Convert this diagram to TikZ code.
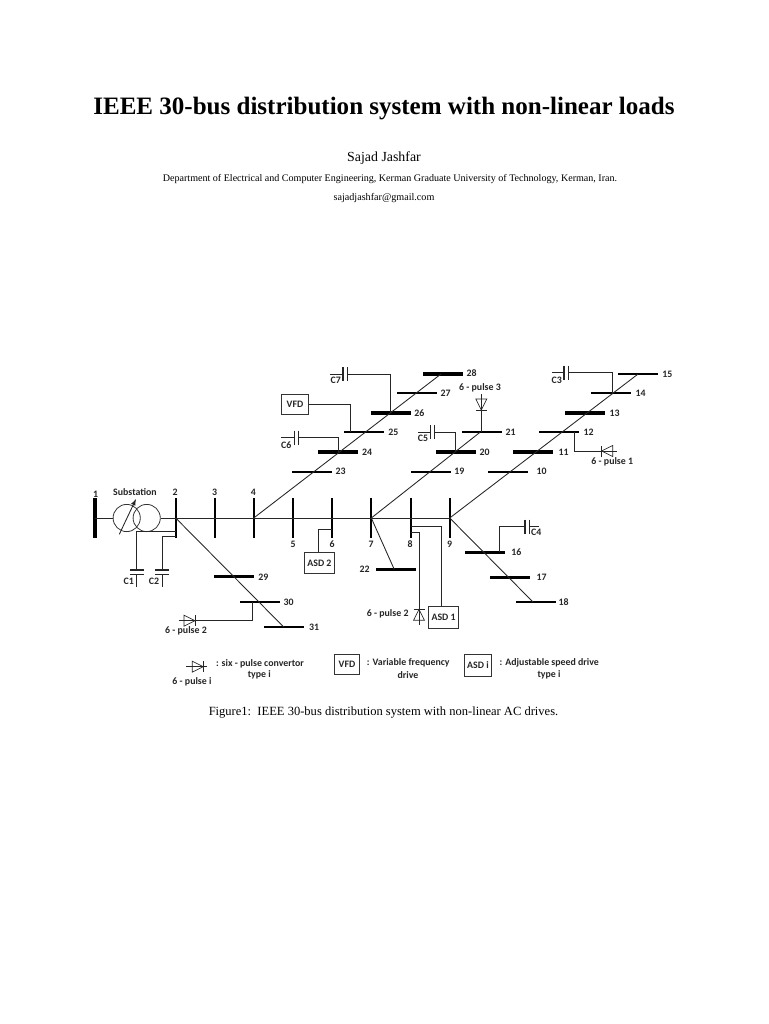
\documentclass[tikz,border=0pt]{standalone}
\usepackage{fontspec}
\setmainfont{Liberation Serif}
\newfontfamily\labelfont{Carlito}
\tikzset{
  wire/.style={line width=0.65pt,black!85},
  hbus/.style={fill=black,inner sep=0pt,minimum width=30pt,minimum height=1.5pt},
  hbusthick/.style={hbus,minimum height=2.6pt},
  vbus/.style={fill=black,inner sep=0pt,minimum width=1.6pt,minimum height=30pt},
  tag/.style={inner sep=0pt,text=black!85,font=\labelfont\bfseries\fontsize{7.4}{9}\selectfont},
  drivebox/.style={draw=black!80,line width=0.7pt,inner sep=0pt,anchor=north west,tag},
  diode/.pic={
    \draw[line width=0.5pt,black!85] (0,0) -- (-11,5.5) -- (-11,-5.5) -- cycle;
    \draw[line width=0.7pt,black!85] (0,-5.5) -- (0,5.5);
  },
  capacitor/.pic={
    \draw[line width=0.8pt,black!85] (0,-7) -- (0,7);
    \draw[line width=0.8pt,black!85] (-4.3,-7) -- (-4.3,7);
  }
}
\begin{document}
\begin{tikzpicture}[x=0.75pt,y=-0.75pt]
  \useasboundingbox (0,0) rectangle (768,1024);
  \node (title) at (384,109) {\fontsize{18.77}{20}\selectfont\bfseries IEEE 30-bus distribution system with non-linear loads};
  \node (author) at (384,158) {\fontsize{10.4}{12}\selectfont Sajad Jashfar};
  \node (dept) at (390,179) {\fontsize{7.55}{9}\selectfont Department of Electrical and Computer Engineering, Kerman Graduate University of Technology, Kerman, Iran.};
  \node (mail) at (384,198.5) {\fontsize{7.6}{9}\selectfont sajadjashfar@gmail.com};
  \node (caption) at (383.5,712) {\fontsize{9.4}{11}\selectfont Figure1:\ \ IEEE 30-bus distribution system with non-linear AC drives.};
  \path
    (95,518) node[vbus,minimum width=3.4pt] (1){}
    (175.7,518) node[vbus] (2){}
    (214.7,518) node[vbus] (3){}
    (253.7,518) node[vbus] (4){}
    (293,518) node[vbus] (5){}
    (332,518) node[vbus] (6){}
    (371.3,518) node[vbus] (7){}
    (410.7,518) node[vbus] (8){}
    (449.7,518) node[vbus] (9){}
    (507.5,471.7) node[hbus] (10){}
    (533.3,452) node[hbusthick] (11){}
    (559,432.3) node[hbus] (12){}
    (585.3,413) node[hbusthick] (13){}
    (611.3,393.3) node[hbus] (14){}
    (637.7,374.3) node[hbus] (15){}
    (485,552.3) node[hbusthick] (16){}
    (510,577.7) node[hbusthick] (17){}
    (536,602.3) node[hbus] (18){}
    (431,471.7) node[hbus] (19){}
    (456,452) node[hbusthick] (20){}
    (482,432.3) node[hbus] (21){}
    (395.7,569.5) node[hbusthick] (22){}
    (312,471.7) node[hbus] (23){}
    (338,452) node[hbusthick] (24){}
    (364,432.3) node[hbus] (25){}
    (390.5,413) node[hbusthick] (26){}
    (416.5,393.3) node[hbus] (27){}
    (442.7,374) node[hbusthick] (28){}
    (234,576.7) node[hbusthick] (29){}
    (260,602.3) node[hbus] (30){}
    (284,627) node[hbus] (31){};
  \path
    (95.7,494) node[tag] (t1){1}
    (175,492) node[tag] (t2){2}
    (214.7,492) node[tag] (t3){3}
    (253.3,492) node[tag] (t4){4}
    (293,544) node[tag] (t5){5}
    (332,544) node[tag] (t6){6}
    (371,544) node[tag] (t7){7}
    (410,544) node[tag] (t8){8}
    (449.7,544) node[tag] (t9){9}
    (541.7,471.7) node[tag] (t10){10}
    (563.7,452) node[tag] (t11){11}
    (588.7,432) node[tag] (t12){12}
    (614.7,413) node[tag] (t13){13}
    (640.7,393) node[tag] (t14){14}
    (667.3,374) node[tag] (t15){15}
    (516.3,552) node[tag] (t16){16}
    (541.7,577) node[tag] (t17){17}
    (563.7,601.7) node[tag] (t18){18}
    (459.3,471.7) node[tag] (t19){19}
    (484.7,452) node[tag] (t20){20}
    (510.7,432) node[tag] (t21){21}
    (364.7,569) node[tag] (t22){22}
    (340.7,471.7) node[tag] (t23){23}
    (367,452) node[tag] (t24){24}
    (393.3,432) node[tag] (t25){25}
    (419.3,412.7) node[tag] (t26){26}
    (445.7,393) node[tag] (t27){27}
    (471.7,373.5) node[tag] (t28){28}
    (263.3,577) node[tag] (t29){29}
    (288.7,602.5) node[tag] (t30){30}
    (314,627) node[tag] (t31){31}
    (135,491.7) node[tag] (substation){Substation}
    (128.7,581.5) node[tag] (tc1){C1}
    (154,581.5) node[tag] (tc2){C2}
    (556.7,380.3) node[tag] (tc3){C3}
    (536.3,532) node[tag] (tc4){C4}
    (423,438.7) node[tag] (tc5){C5}
    (286.3,444.7) node[tag] (tc6){C6}
    (335.7,380.3) node[tag] (tc7){C7}
    (612.3,461.7) node[tag] (tp1){6 - pulse 1}
    (186,631.3) node[tag] (tp2){6 - pulse 2}
    (387.7,614.3) node[tag] (tp8){6 - pulse 2}
    (480,388.3) node[tag] (tp3){6 - pulse 3}
    (192,681.7) node[tag] (tpi){6 - pulse i}
    (260,663.7) node[tag] (legend1){: six - pulse convertor}
    (259.3,675) node[tag] (legend1b){type i}
    (408.3,663) node[tag] (legend2){: Variable frequency}
    (408,675) node[tag] (legend2b){drive}
    (549.3,663) node[tag] (legend3){: Adjustable speed drive}
    (549,675) node[tag] (legend3b){type i};
  \path
    (281.3,393.7) node[drivebox,minimum width=19.8pt,minimum height=15.4pt] (vfd){VFD}
    (304.3,551.7) node[drivebox,minimum width=22pt,minimum height=16.2pt] (asd2){ASD 2}
    (428,605.7) node[drivebox,minimum width=22.7pt,minimum height=16.5pt] (asd1){ASD 1}
    (333.7,654.3) node[drivebox,minimum width=19.2pt,minimum height=15pt] (vfdkey){VFD}
    (464.3,654) node[drivebox,minimum width=19.8pt,minimum height=16.5pt] (asdkey){ASD i};
  \path
    (126.7,518) node[circle,draw=black!80,line width=0.6pt,inner sep=0pt,minimum size=20.4pt] (tr1){}
    (146.7,518) node[circle,draw=black!80,line width=0.6pt,inner sep=0pt,minimum size=20.4pt] (tr2){};
  \coordinate (tap1) at (119.3,534.3);
  \coordinate (tap2) at (136,499);
  \coordinate (j28) at (441,374);
  \coordinate (j21) at (480,432.3);
  \coordinate (j15) at (637.7,374.3);
  \coordinate (j31) at (283.7,627);
  \coordinate (j18) at (533.3,602.3);
  \coordinate (j22) at (394.3,569.5);
  \coordinate (c1a) at (175.7,531.7);
  \coordinate (c1b) at (136.7,531.7);
  \coordinate (c1c) at (136.7,570);
  \coordinate (c1d) at (136.7,574.3);
  \coordinate (c1e) at (136.7,586.7);
  \coordinate (c2a) at (175.7,536);
  \coordinate (c2b) at (162,536);
  \coordinate (c2c) at (162,570);
  \coordinate (c2d) at (162,574.3);
  \coordinate (c2e) at (162,587);
  \coordinate (c3a) at (612,393.3);
  \coordinate (c3b) at (612,372.7);
  \coordinate (c3c) at (568.3,372.7);
  \coordinate (c3d) at (564,372.7);
  \coordinate (c3e) at (551.7,372.7);
  \coordinate (c4a) at (499.3,552.3);
  \coordinate (c4b) at (499.3,526.7);
  \coordinate (c4c) at (525,526.7);
  \coordinate (c4d) at (529.3,526.7);
  \coordinate (c4e) at (539,526.7);
  \coordinate (c5a) at (455.3,452);
  \coordinate (c5b) at (455.3,432.3);
  \coordinate (c5c) at (434.7,432.3);
  \coordinate (c5d) at (430.4,432.3);
  \coordinate (c5e) at (417.7,432.3);
  \coordinate (c6a) at (338,452);
  \coordinate (c6b) at (338,437.7);
  \coordinate (c6c) at (298.7,437.7);
  \coordinate (c6d) at (294.4,437.7);
  \coordinate (c6e) at (281,437.7);
  \coordinate (c7a) at (390,413);
  \coordinate (c7b) at (390,374);
  \coordinate (c7c) at (347.3,374);
  \coordinate (c7d) at (343,374);
  \coordinate (c7e) at (330,374);
  \coordinate (p1a) at (574.7,432.3);
  \coordinate (p1b) at (574.7,451);
  \coordinate (p1c) at (617.3,451);
  \coordinate (p2a) at (252.7,602.3);
  \coordinate (p2b) at (252.7,620.7);
  \coordinate (p2c) at (179,620.7);
  \coordinate (p3a) at (481.3,432.3);
  \coordinate (p3b) at (481.3,394.3);
  \coordinate (p8a) at (410.7,532.3);
  \coordinate (p8b) at (419,532.3);
  \coordinate (p8c) at (419,625);
  \coordinate (a1a) at (410.7,526.7);
  \coordinate (a1b) at (441.3,526.7);
  \coordinate (a2a) at (332,529.3);
  \coordinate (a2b) at (318.7,529.3);
  \coordinate (v1a) at (350,432.3);
  \coordinate (v1b) at (350,404);
  \coordinate (k1) at (186,666.7);
  \coordinate (k2) at (207.3,666.7);
  \begin{scope}[wire]
    \draw (1.center) to (tr1);
    \draw (tr2) to (9.center);
    \draw[-latex] (tap1) to (tap2);
    \draw (4.center) to (j28);
    \draw (7.center) to (j21);
    \draw (9.center) to (j15);
    \draw (2.center) to (j31);
    \draw (9.center) to (j18);
    \draw (7.center) to (j22);
    \draw (c1a) to (c1b) to (c1c);
    \draw (c1d) to (c1e);
    \draw (c2a) to (c2b) to (c2c);
    \draw (c2d) to (c2e);
    \draw (c3a) to (c3b) to (c3c);
    \draw (c3d) to (c3e);
    \draw (c4a) to (c4b) to (c4c);
    \draw (c4d) to (c4e);
    \draw (c5a) to (c5b) to (c5c);
    \draw (c5d) to (c5e);
    \draw (c6a) to (c6b) to (c6c);
    \draw (c6d) to (c6e);
    \draw (c7a) to (c7b) to (c7c);
    \draw (c7d) to (c7e);
    \draw (p1a) to (p1b) to (p1c);
    \draw (p2a) to (p2b) to (p2c);
    \draw (p3a) to (p3b);
    \draw (p8a) to (p8b) to (p8c);
    \draw (a1a) to (a1b) to (a1b |- asd1.north);
    \draw (a2a) to (a2b) to (a2b |- asd2.north);
    \draw (v1a) to (v1b) to (vfd.east |- v1b);
    \draw (k1) to (k2);
  \end{scope}
  \path
    (136.7,574.3) pic[rotate=-90] {capacitor}
    (162,574.3) pic[rotate=-90] {capacitor}
    (568.3,372.7) pic {capacitor}
    (529.3,526.7) pic {capacitor}
    (434.7,432.3) pic {capacitor}
    (298.7,437.7) pic {capacitor}
    (347.3,374) pic {capacitor}
    (601.7,451) pic[rotate=180] {diode}
    (195,620.7) pic {diode}
    (481.3,410) pic[rotate=-90] {diode}
    (419,609.3) pic[rotate=90] {diode}
    (203.3,666.7) pic {diode};
\end{tikzpicture}
\end{document}
